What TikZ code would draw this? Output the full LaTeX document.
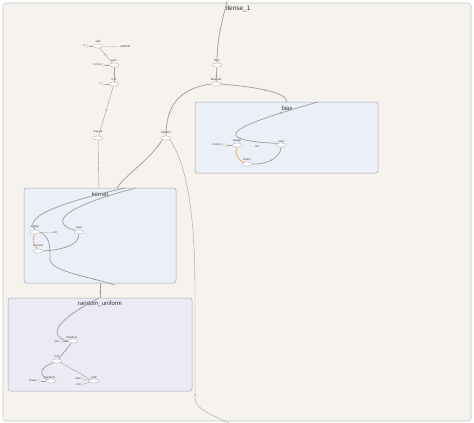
\documentclass[tikz,border=0pt]{standalone}
\usepackage{fontspec}
\setmainfont{Liberation Sans}
\usetikzlibrary{shapes.geometric,decorations.markings,arrows.meta}
\definecolor{bgc}{HTML}{F6F2EE}
\definecolor{boxblue}{HTML}{EBEFF7}
\definecolor{boxlav}{HTML}{ECEAF5}
\definecolor{boxline}{HTML}{A9A9B0}
\definecolor{edgec}{HTML}{A0A0A0}
\definecolor{refc}{HTML}{E0A040}
\begin{document}
\begin{tikzpicture}[x=1pt,y=-1pt,
  op/.style={ellipse,draw=gray!75,fill=white,minimum width=10pt,minimum height=4.2pt,inner sep=0pt,line width=0.3pt},
  cst/.style={circle,draw=gray!75,fill=white,minimum size=3pt,inner sep=0pt,line width=0.3pt},
  lbl/.style={font=\fontsize{2.8}{3}\selectfont,text=black!75,inner sep=0pt},
  grp/.style={rounded corners=2.5pt,draw=boxline,line width=0.5pt},
  glbl/.style={font=\fontsize{6}{7}\selectfont,text=black!80,inner sep=0pt},
  tens/.style={draw=edgec,line width=0.75pt},
  thin/.style={draw=edgec,line width=0.4pt},
  ctl/.style={draw=gray!45,line width=0.25pt,dash pattern=on 0.6pt off 0.9pt,shorten <=1pt,shorten >=1pt},
  refe/.style={draw=refc,line width=0.6pt},
  mid/.style={postaction={decorate},decoration={markings,mark=at position #1 with {\arrow{Stealth[length=1.8pt,width=1.6pt]}}}},
  mid/.default=0.5]
\useasboundingbox (0,0) rectangle (474,423);
\fill[white] (0,0) rectangle (474,423);
\draw[fill=bgc,draw=gray!45,line width=0.6pt,rounded corners=3pt] (3,3) rectangle (471,421);

% group boxes
\draw[grp,fill=boxblue] (195,102) rectangle (378,173);
\node[glbl] (biaslbl) at (287,108) {bias};
\draw[grp,fill=boxblue] (24,188) rectangle (176,283);
\node[glbl] (kernellbl) at (100,194) {kernel};
\draw[grp,fill=boxlav] (8,298) rectangle (192,391);
\node[glbl] (rulbl) at (100,304) {random\_uniform};

\node[glbl,font=\fontsize{6.5}{7}\selectfont] (dense) at (238,9) {dense\_1};

% coordinates for group ports
\coordinate (topout) at (227,1);
\coordinate (botout) at (229,423);
\coordinate (biastop) at (287,102);
\coordinate (biasin) at (318,102);
\coordinate (ksq) at (99,188);
\coordinate (kmm) at (117,188);
\coordinate (kin1) at (125,188);
\coordinate (kin2) at (136,188);
\coordinate (kbot) at (100,283);
\coordinate (kbot2) at (115,285);
\coordinate (rutop) at (100,298);

% top ops
\node[op] (relu) at (217,65) {};
\node[lbl] at (217,60) {Relu};
\node[op] (biasadd) at (216,84) {};
\node[lbl] at (216,79) {BiasAdd};
\node[op] (matmul) at (166,138) {};
\node[lbl] at (166,132) {MatMul};
\node[op] (square) at (98,138) {};
\node[lbl] at (98,132) {Square};
\node[op] (mul) at (114,84) {};
\node[lbl] at (114,79) {mul};
\node[cst] (cx) at (103,84) {};
\node[lbl,anchor=east] at (101,84) {x};
\node[op] (sum) at (114,65) {};
\node[lbl] at (114,61) {Sum};
\node[cst] (cconst) at (103,65) {};
\node[lbl,anchor=east] at (101,65) {Const};
\node[op] (add) at (98,46) {};
\node[lbl] at (98,41) {add};
\node[cst] (ca) at (87,46) {};
\node[lbl,anchor=east] at (85,46) {a};
\node[lbl,anchor=west] (addy) at (120,46) {add/l:96};

% bias internals
\node[op] (bassign) at (237,145) {};
\node[lbl] at (237,141) {Assign};
\node[cst] (bconst) at (225,145) {};
\node[lbl,anchor=east] at (223,145) {Const\_1};
\node[lbl] (binit) at (257,146) {init};
\node[op] (bread) at (281,145) {};
\node[lbl] at (281,141) {read};
\node[op] (bvar) at (247,164) {};
\node[lbl] at (247,160) {(bias)};

% kernel internals
\node[op] (kassign) at (35,232) {};
\node[lbl] at (35,227) {Assign};
\node[lbl] (kinit) at (55,232) {init};
\node[op] (kread) at (79,232) {};
\node[lbl] at (79,227) {read};
\node[op] (kvar) at (38,251) {};
\node[lbl] at (38,246) {(kernel)};

% random_uniform internals
\node[op] (ru) at (73,341) {};
\node[lbl] at (73,337) {Random...};
\node[cst] (rumin) at (61,341) {};
\node[lbl,anchor=east] at (59,341) {min};
\node[op] (rmul) at (57,361) {};
\node[lbl] at (57,356) {mul};
\node[op] (ru2) at (51,381) {};
\node[lbl] at (51,377) {Random...};
\node[cst] (rshape) at (39,381) {};
\node[lbl,anchor=east] at (37,381) {shape};
\node[op] (radd) at (94,381) {};
\node[lbl] at (94,377) {add};
\node[cst] (rmax) at (83,379) {};
\node[lbl,anchor=east] at (81,379) {max};
\node[cst] (rmin2) at (83,384) {};
\node[lbl,anchor=east] at (81,384) {min};

% edges top
\draw[tens,mid=0.55] (relu.north) .. controls (217,35) and (224,15) .. (topout);
\draw[tens,mid] (biasadd) -- (relu);
\draw[tens,mid=0.6] (matmul.north) .. controls (166,100) and (185,88) .. (biasadd.west);
\draw[tens,mid=0.4] (biastop) .. controls (287,92) and (255,87) .. (biasadd.east);
\draw[thin,mid] (add) -- (sum);
\draw[thin] (ca) -- (add);
\draw[ctl] (add) -- (addy);
\draw[thin] (cconst) -- (sum);
\draw[tens,mid] (sum) -- (mul);
\draw[thin] (cx) -- (mul);
\draw[thin,mid] (mul) -- (square);
\draw[thin,mid] (square) -- (ksq);
\draw[tens,mid] (matmul.south west) .. controls (150,160) and (125,175) .. (kmm);
\draw[thin,mid=0.85] (matmul.south east) .. controls (188,165) and (195,220) .. (195,290) -- (195,398) .. controls (195,410) and (215,416) .. (botout);

% bias edges
\draw[tens,mid=0.3] (biasin) .. controls (225,128) and (210,140) .. (bread.north west);
\draw[thin] (bconst) -- (bassign);
\draw[ctl] (bassign) -- (binit);
\draw[tens,mid] (bread.south) .. controls (281,158) and (265,165) .. (bvar.east);
\draw[refe] (bvar.north west) .. controls (238,160) and (234,153) .. (bassign.south);

% kernel edges
\draw[tens,mid=0.3] (kin1) .. controls (50,205) and (25,218) .. (kassign.north);
\draw[tens,mid=0.3] (kin2) .. controls (70,205) and (45,222) .. (kread.north west);
\draw[ctl] (kassign) -- (kinit);
\draw[tens,mid] (kread.south) .. controls (79,246) and (60,250) .. (kvar.east);
\draw[refe] (kvar.north) .. controls (32,244) and (32,238) .. (kassign.south);
\draw[tens,mid=0.8] (kassign.east) .. controls (50,238) and (50,245) .. (50,260) .. controls (52,272) and (95,278) .. (kbot2);
\draw[thin,mid] (rutop) -- (kbot);

% random_uniform edges
\draw[tens,mid=0.3] (99,298) .. controls (60,318) and (45,335) .. (ru.west);
\draw[thin] (rumin) -- (ru);
\draw[tens,mid] (ru) -- (rmul);
\draw[tens,mid] (rmul.south west) .. controls (38,368) and (40,376) .. (ru2.north west);
\draw[thin,mid] (rmul.south east) -- (radd.north west);
\draw[thin] (rshape) -- (ru2);
\draw[thin] (rmax) -- (radd);
\draw[thin] (rmin2) -- (radd);
\end{tikzpicture}
\end{document}
